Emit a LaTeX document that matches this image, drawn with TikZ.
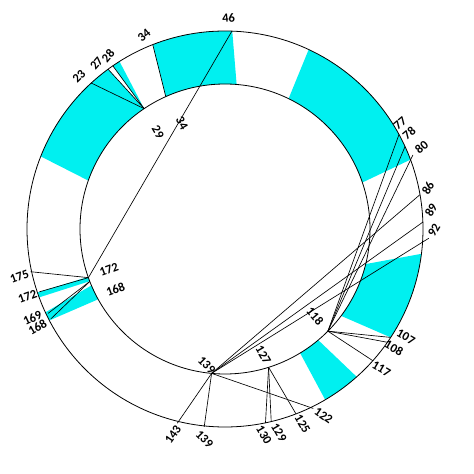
\documentclass[tikz,border=0pt]{standalone}
\usepackage{fontspec}
\setmainfont{Carlito}
\begin{document}
\begin{tikzpicture}[x=1pt, y=1pt, line join=round,
    lbl/.style={font=\fontsize{12.5}{14}\selectfont\bfseries, inner sep=0pt},
    band/.style={fill=cyanband},
    link/.style={line width=0.65pt}]
    % colours of the bands
    \definecolor{cyanband}{RGB}{0, 240, 240}
    \useasboundingbox (0,0) rectangle (474,474);
    \def\Ro{198}
    \def\Ri{145}

    \begin{scope}[shift={(225,245)}]
    % 1. End points on the outer ring and meeting points on the inner ring
    \foreach \n/\a/\r in {23/132.5/198, 27/126.2/198, 28/124.5/198, 34/111.4/198,
        46/88/198, 77/28.5/198, 78/24.6/198, 80/21.5/202, 86/10/198, 89/2/198,
        92/-2.6/204, 107/-33.2/198, 108/-34.9/198, 117/-41.7/198, 122/-63.8/200,
        125/-69/198, 129/-76.5/198, 130/-78.2/198, 139/-96/199, 143/-103.8/200,
        168/-152.7/196, 169/-154.5/196, 172/-161.3/196, 175/-167.6/199}
        \coordinate (o\n) at (\a:\r);
    \foreach \n/\a in {29/123.9, 34/114.1, 118/-44.8, 127/-72.5, 139/-95.3,
        168/-158.8, 172/-160.4}
        \coordinate (p\n) at (\a:\Ri);

    % 2. Cyan bands of the ring
    \fill[band] (158.5:\Ro) arc[start angle=158.5, end angle=126.2, radius=\Ro]
        -- (p29) arc[start angle=123.9, end angle=160.5, radius=\Ri] -- cycle;
    \fill[band] (124.5:\Ro) -- (122.2:\Ro) -- (p29) -- cycle;
    \fill[band] (111.4:\Ro) arc[start angle=111.4, end angle=87.9, radius=\Ro]
        -- (85.4:\Ri) arc[start angle=85.4, end angle=114.1, radius=\Ri] -- cycle;
    \fill[band] (65:\Ro) arc[start angle=65, end angle=20.5, radius=\Ro]
        -- (18.7:\Ri) arc[start angle=18.7, end angle=64, radius=\Ri] -- cycle;
    \fill[band] (-7.2:\Ro) arc[start angle=-7.2, end angle=-33.2, radius=\Ro]
        -- (-36.8:\Ri) arc[start angle=-36.8, end angle=-14, radius=\Ri] -- cycle;
    \fill[band] (-48.3:\Ro) arc[start angle=-48.3, end angle=-59.6, radius=\Ro]
        -- (-58.8:\Ri) arc[start angle=-58.8, end angle=-50, radius=\Ri] -- cycle;
    \fill[band] (-161.3:\Ro) -- (-159.8:\Ro) -- (-158.9:\Ri) -- (-160.7:\Ri) -- cycle;
    \fill[band] (-155.1:\Ro) -- (-152.5:\Ro) -- (-151:\Ri) -- (-157.1:\Ri) -- cycle;

    % 3. The two rings
    \draw[line width=0.8pt] (0,0) circle[radius=\Ro];
    \draw[line width=0.8pt] (0,0) circle[radius=\Ri];
    \end{scope}

    % 4. Links from the outer ring to the inner ring
    \foreach \a/\b in {23/29, 27/29, 28/29, 34/34, 46/172, 175/172, 172/172,
        169/168, 168/168, 77/118, 78/118, 80/118, 107/118, 108/118, 117/118,
        86/139, 89/139, 92/139, 122/139, 139/139, 143/139,
        125/127, 129/127, 130/127}
        \draw[link] (o\a) -- (p\b);

    % 5. Numbers on the outside
    \node[lbl, rotate=45] (l23) at (79,397.5) {23};
    \node[lbl, rotate=50] (l27) at (96.5,410.5) {27};
    \node[lbl, rotate=50] (l28) at (108,418.5) {28};
    \node[lbl, rotate=40] (l34) at (144,438.5) {34};
    \node[lbl, rotate=5] (l46) at (228.5,456) {46};
    \node[lbl, rotate=40] (l77) at (400,351) {77};
    \node[lbl, rotate=40] (l78) at (409,341) {78};
    \node[lbl, rotate=40] (l80) at (421.5,327) {80};
    \node[lbl, rotate=60] (l86) at (428,286) {86};
    \node[lbl, rotate=60] (l89) at (431,264) {89};
    \node[lbl, rotate=60] (l92) at (434,244) {92};
    \node[lbl, rotate=-30] (l107) at (406,137) {107};
    \node[lbl, rotate=-30] (l108) at (394,126) {108};
    \node[lbl, rotate=-30] (l117) at (381.5,105) {117};
    \node[lbl, rotate=-35] (l122) at (323.5,58.5) {122};
    \node[lbl, rotate=-60] (l125) at (302.5,50) {125};
    \node[lbl, rotate=-60] (l129) at (279,41.5) {129};
    \node[lbl, rotate=-60] (l130) at (264,39) {130};
    \node[lbl, rotate=-45] (l139) at (204.5,35) {139};
    \node[lbl, rotate=55] (l143) at (173,39.5) {143};
    \node[lbl, rotate=30] (l168) at (37.5,146.5) {168};
    \node[lbl, rotate=25] (l169) at (32.5,156) {169};
    \node[lbl, rotate=20] (l172) at (27.5,177.5) {172};
    \node[lbl, rotate=20] (l175) at (19.5,197.5) {175};

    % 6. Numbers on the inside
    \node[lbl, rotate=-60] (m29) at (158,342) {29};
    \node[lbl, rotate=-60] (m34) at (182,351) {34};
    \node[lbl, rotate=20] (m172) at (109,204.5) {172};
    \node[lbl, rotate=20] (m168) at (115.5,184.5) {168};
    \node[lbl, rotate=-50] (m118) at (315,158) {118};
    \node[lbl, rotate=-60] (m127) at (263.3,119) {127};
    \node[lbl, rotate=-45] (m139) at (206.7,109) {139};
\end{tikzpicture}
\end{document}
